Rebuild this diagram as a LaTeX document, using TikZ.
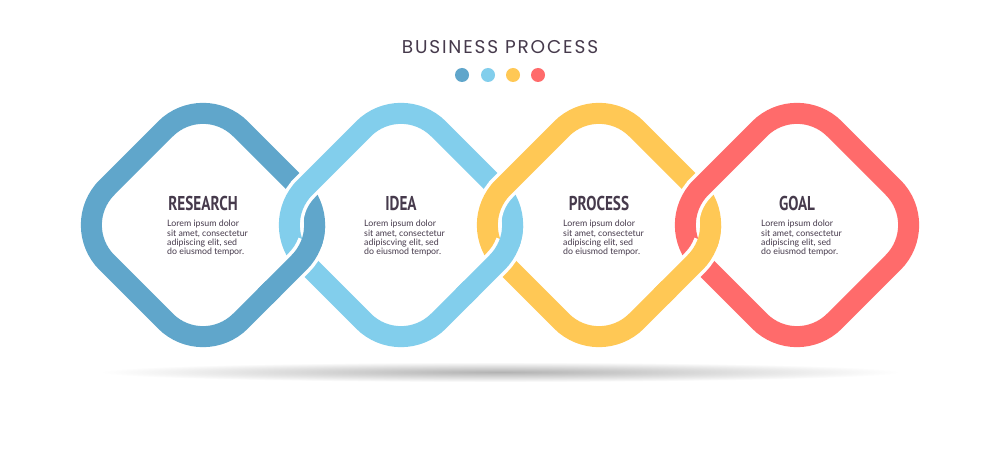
\documentclass[tikz,border=0pt]{standalone}
\usepackage{fontspec}
\setmainfont{Lato}
\newfontfamily\titlefont[LetterSpace=10]{Poppins}
\newfontfamily\headfont[FakeStretch=0.76]{PT Sans}
\definecolor{cA}{RGB}{96,166,203}
\definecolor{cB}{RGB}{130,206,236}
\definecolor{cC}{RGB}{255,200,85}
\definecolor{cD}{RGB}{255,107,107}
\definecolor{txt}{RGB}{70,58,76}
\begin{document}
\begin{tikzpicture}[x=1pt,y=1pt,
  ringpath/.style={draw=white, line width=3.5pt, double=#1, double distance=21pt},
  casing/.style={draw=white, line width=28pt},
  bandpath/.style={draw=#1, line width=21pt},
  headtxt/.style={font=\headfont\bfseries\fontsize{20}{20}\selectfont, text=txt, inner sep=0pt},
  bodytxt/.style={font=\fontsize{8.8}{9.4}\selectfont, text=txt, align=left, inner sep=0pt, anchor=north west},
  dotmark/.style={circle, fill=#1, minimum size=14pt, inner sep=0pt}
]
\useasboundingbox[fill=white] (0,0) rectangle (1000,450);

% shadow
\shade[inner color=black!30, outer color=white] (500,78) ellipse [x radius=400, y radius=10];

% title
\node[font=\titlefont\fontsize{18.5}{18.5}\selectfont, text=txt, inner sep=0pt] (title) at (500,403) {BUSINESS PROCESS};
\node[dotmark=cA] (d1) at (462,375) {};
\node[dotmark=cB] (d2) at (488,375) {};
\node[dotmark=cC] (d3) at (513,375) {};
\node[dotmark=cD] (d4) at (538,375) {};

% rings (rounded diamonds)
\foreach \cx/\col in {203/cA, 401/cB, 599/cC, 797/cD}{
  \draw[ringpath=\col] (\cx-96.12,262.48) -- (\cx-37.48,321.12)
    arc[start angle=135, end angle=45, radius=53] -- (\cx+96.12,262.48)
    arc[start angle=45, end angle=-45, radius=53] -- (\cx+37.48,128.88)
    arc[start angle=-45, end angle=-135, radius=53] -- (\cx-96.12,187.52)
    arc[start angle=225, end angle=135, radius=53] -- cycle;
}
% left ring passes over the next ring at the lower crossing
\foreach \cx/\col in {203/cA, 401/cB, 599/cC}{
  \draw[casing] (\cx+108.43,206.87) arc[start angle=-20, end angle=-45, radius=53] -- ++(-26,-26);
  \draw[bandpath=\col] (\cx+111.65,225) arc[start angle=0, end angle=-45, radius=53] -- ++(-34,-34);
}

% texts
\node[headtxt] (h1) at (203,246.5) {RESEARCH};
\node[headtxt] (h2) at (401,246.5) {IDEA};
\node[headtxt] (h3) at (599,246.5) {PROCESS};
\node[headtxt] (h4) at (797,246.5) {GOAL};

\node[bodytxt] (b1) at (167,230) {Lorem ipsum dolor\\sit amet, consectetur\\adipiscing elit, sed\\do eiusmod tempor.};
\node[bodytxt] (b2) at (364,230) {Lorem ipsum dolor\\sit amet, consectetur\\adipiscving elit, sed\\do eiusmod tempor.};
\node[bodytxt] (b3) at (563,230) {Lorem ipsum dolor\\sit amet, consectetur\\adipiscing elit, sed\\do eiusmod tempor.};
\node[bodytxt] (b4) at (761,230) {Lorem ipsum dolor\\sit amet, consectetur\\adipiscing elit, sed\\do eiusmod tempor.};
\end{tikzpicture}
\end{document}
